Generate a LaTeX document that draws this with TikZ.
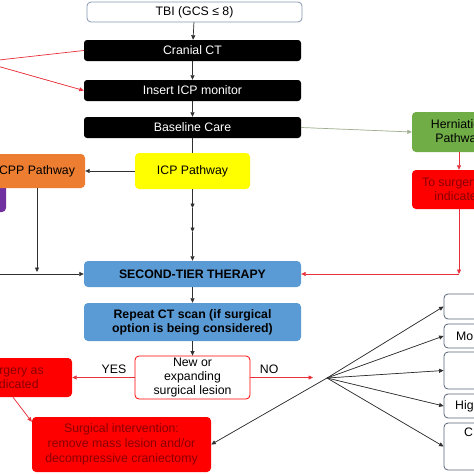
\documentclass[tikz,border=0pt]{standalone}
\usepackage{fontspec}
\setmainfont{Liberation Sans}
\usetikzlibrary{arrows.meta,calc}
\definecolor{tbiblue}{HTML}{8497B0}
\definecolor{boxgray}{HTML}{5A6478}
\definecolor{blu}{HTML}{5B9BD5}
\definecolor{org}{HTML}{ED7D31}
\definecolor{yel}{HTML}{FFFF00}
\definecolor{grn}{HTML}{70AD47}
\definecolor{rd}{HTML}{FF0000}
\definecolor{darkrd}{HTML}{8A0000}
\definecolor{purp}{HTML}{7030A0}
\definecolor{con}{HTML}{303030}
\definecolor{redcon}{HTML}{E8303A}
\definecolor{grncon}{HTML}{A0B090}
\tikzset{
  base/.style={rounded corners=4pt, inner sep=0pt, align=center, font=\fontsize{12.3}{14}\selectfont},
  blackbox/.style={base, fill=black, text=white, rounded corners=3pt},
  bluebox/.style={base, fill=blu, text=black, font=\fontsize{12.3}{14}\selectfont\bfseries},
  redbox/.style={base, fill=rd, text=darkrd},
  whitebox/.style={base, fill=white, draw=boxgray, line width=0.8pt},
  arr/.style={-{Triangle[length=4.5pt,width=4pt]}, line width=0.7pt, draw=con, fill=con},
  redarr/.style={arr, draw=redcon, fill=redcon},
  plain/.style={line width=0.7pt, draw=con},
  lbl/.style={font=\fontsize{12.3}{14}\selectfont, inner sep=0pt},
}
\begin{document}
\begin{tikzpicture}[x=1pt,y=-1pt]
\clip (0,0) rectangle (474,474);
\fill[white] (0,0) rectangle (474,474);
% boxes
\node[whitebox, draw=tbiblue, minimum width=215pt, minimum height=20pt] (tbi) at (194.5,12) {TBI (GCS ≤ 8)};
\node[blackbox, minimum width=217pt, minimum height=21pt] (ct) at (192.5,50.5) {Cranial CT};
\node[blackbox, minimum width=217pt, minimum height=21pt] (icpm) at (192.5,90.5) {Insert ICP monitor};
\node[blackbox, minimum width=217pt, minimum height=21pt] (bc) at (192.5,127.5) {Baseline Care};
\node[base, fill=yel, minimum width=115pt, minimum height=36pt] (icp) at (192.5,171) {ICP Pathway};
\fill[purp, rounded corners=4pt] (-30,180) rectangle (6,212);
\node[base, fill=org, minimum width=96pt, minimum height=34pt] (cpp) at (37,171) {CPP Pathway};
\node[bluebox, minimum width=217pt, minimum height=26pt] (st) at (192.5,274) {SECOND-TIER THERAPY};
\node[bluebox, minimum width=217pt, minimum height=38pt] (rep) at (192.5,322) {Repeat CT scan (if surgical\\option is being considered)};
\node[whitebox, draw=rd, minimum width=115pt, minimum height=43pt] (nl) at (192.5,377.5) {New or\\expanding\\surgical lesion};
\node[redbox, minimum width=116pt, minimum height=39pt] (sai) at (14,377.5) {Surgery as\\indicated};
\node[redbox, minimum width=179pt, minimum height=55pt, font=\fontsize{12.3}{15}\selectfont] (si) at (121.5,444.5) {Surgical intervention:\\remove mass lesion and/or\\decompressive craniectomy};
\node[base, fill=grn, minimum width=94pt, minimum height=40pt] (hp) at (459,132) {Herniation\\Pathway};
\node[redbox, minimum width=94pt, minimum height=39pt] (ts) at (459,189.5) {To surgery as\\indicated};
% right boxes
\node[whitebox, minimum width=100pt, minimum height=25pt] (r1) at (494,306.5) {};
\node[whitebox, minimum width=100pt, minimum height=24pt] (r2) at (494,336) {};
\node[whitebox, minimum width=100pt, minimum height=37pt] (r3) at (494,370.5) {};
\node[whitebox, minimum width=100pt, minimum height=24pt] (r4) at (494,406) {};
\node[whitebox, minimum width=100pt, minimum height=47pt] (r5) at (494,446.5) {};
\node[lbl, anchor=west] (r2t) at (456,336) {Mo};
\node[lbl, anchor=west] (r4t) at (455,406) {Hig};
\node[lbl, anchor=west] (r5t) at (464,432) {C};
% coordinates
\coordinate (l1) at (-10,61);
\coordinate (l2) at (-10,64);
\coordinate (a1) at (192.5,208);
\coordinate (a2) at (192.5,232);
\coordinate (cppend) at (37,272);
\coordinate (lft) at (-10,274);
\coordinate (rc) at (459,274);
\coordinate (noend) at (313,377.5);
\coordinate (f) at (327,378);
% connectors
\draw[arr] (tbi) -- (ct);
\draw[arr] (ct) -- (icpm);
\draw[arr] (icpm) -- (bc);
\draw[plain] (bc) -- (icp);
\draw[arr] (icp) -- (cpp);
\draw[arr] (icp.south) -- (a1);
\draw[arr] (a1) -- (a2);
\draw[arr] (a2) -- (st.north);
\draw[arr] (cpp.south) -- (cppend);
\draw[arr] (lft) -- (st.west);
\draw[arr] (st) -- (rep);
\draw[arr] (rep) -- (nl);
\draw[line width=0.7pt, redcon] (ct.west) -- (l1);
\draw[redarr] (l2) -- (icpm.west);
\draw[arr, draw=grncon, fill=grncon] (bc.east) -- (hp.west);
\draw[redarr] (hp) -- (ts);
\draw[redarr] (ts.south) -- (rc);
\draw[redarr] (rc) -- (st.east);
\draw[redarr] (nl.west) -- (sai.east) node[lbl, pos=0.33, above=4pt, text=black] (yes) {YES};
\draw[redarr] (nl.east) -- (noend) node[lbl, pos=0.3, above=4pt, text=black] (no) {NO};
\draw[redarr] ([xshift=-1pt]sai.south) -- ($(si.north west)+(0,5)$);
\draw[arr] (f) -- (si.east);
\draw[arr] (f) -- (r1.west);
\draw[arr] (f) -- (r2.west);
\draw[arr] (f) -- (r3.west);
\draw[arr] (f) -- (r4.west);
\draw[arr] (f) -- (r5.west);
\end{tikzpicture}
\end{document}
